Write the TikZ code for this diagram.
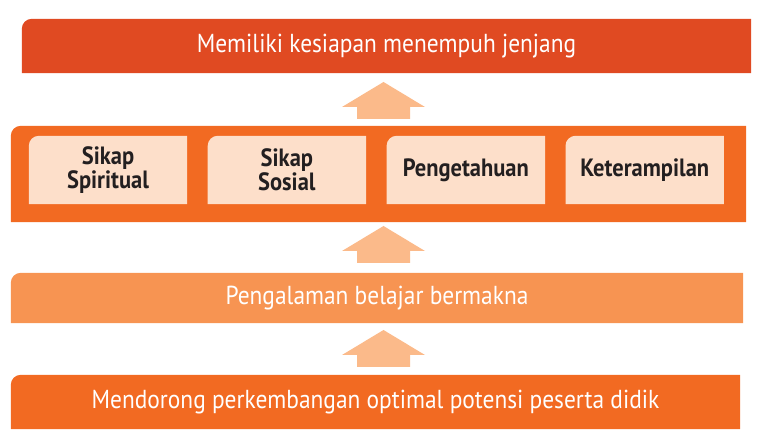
\documentclass[tikz,border=0pt]{standalone}
\usepackage{fontspec}
\setmainfont{PT Sans}[FakeStretch=0.9]
\usepackage{xcolor}
\usetikzlibrary{
    positioning,
    backgrounds,
    calc
}
\definecolor{goalred}{HTML}{E04A22}
\definecolor{mainorange}{HTML}{F26A22}
\definecolor{lightorange}{HTML}{F79452}
\definecolor{peach}{HTML}{FDDFCA}
\definecolor{arrowpeach}{HTML}{FBBA8A}
\definecolor{darktext}{HTML}{231F20}

\tikzset{
    bar/.style={rectangle, inner sep=0pt, text=white,
        font=\fontsize{26}{28}\selectfont},
    aspect/.style={rectangle, inner sep=0pt, minimum width=158pt,
        minimum height=68pt, align=center, text=darktext,
        font=\bfseries\fontsize{25}{24}\selectfont}
}

\begin{document}
\begin{tikzpicture}[x=1pt, y=1pt]
                        \useasboundingbox (0, 0) rectangle (759, 438);

                        \node[bar, minimum width=729pt, minimum height=54pt] (goal) at (386.5, 392) {Memiliki kesiapan menempuh jenjang};
                        \node[bar, minimum width=735pt, minimum height=96pt] (core) at (378.5, 264) {};
                        \node[bar, minimum width=732pt, minimum height=50pt] (exp) at (377, 140) {Pengalaman belajar bermakna};
                        \node[bar, minimum width=729pt, minimum height=54pt] (base) at (375.5, 36) {Mendorong perkembangan optimal potensi peserta didik};

                        \node[aspect] (spir) at (108, 268) {Sikap\\Spiritual};
                        \node[aspect, right=20.5pt of spir] (sos) {Sikap\\Sosial};
                        \node[aspect, right=20.5pt of sos] (peng) {Pengetahuan};
                        \node[aspect, right=20.5pt of peng] (ket) {Keterampilan};

                        % fills with the top left corner rounded
                        \begin{scope}[on background layer]
                            \foreach \n/\col in {goal/goalred, core/mainorange, spir/peach, sos/peach, peng/peach, ket/peach, exp/lightorange, base/mainorange}
                                \fill[\col] (\n.south west) -- ([yshift=-10pt]\n.north west)
                                    arc[start angle=180, end angle=90, radius=10pt]
                                    -- (\n.north east) -- (\n.south east) -- cycle;
                        \end{scope}

                        % block arrows between the bars
                        \coordinate (up1) at (383.5, 319);
                        \coordinate (up2) at (383.5, 175);
                        \coordinate (up3) at (383.5, 71);
                        \foreach \a in {up1, up2, up3}
                            \fill[arrowpeach] ([xshift=-26.5pt]\a) -- ++(0, 12) -- ++(-15, 0)
                                -- ([yshift=37pt]\a) -- ([xshift=41.5pt, yshift=12pt]\a)
                                -- ++(-15, 0) -- ([xshift=26.5pt]\a) -- cycle;
\end{tikzpicture}
\end{document}
